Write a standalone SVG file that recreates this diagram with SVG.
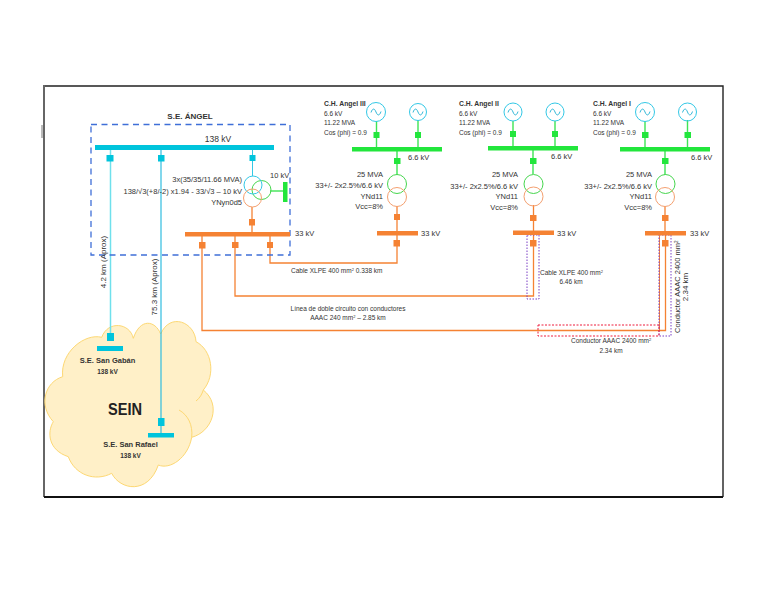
<svg xmlns="http://www.w3.org/2000/svg" xmlns:xlink="http://www.w3.org/1999/xlink" width="768" height="594" viewBox="0 0 768 594">
<style>
text{font-family:"Liberation Sans",Arial,sans-serif;fill:#333;font-size:7.5px}
.b{font-weight:bold}.m{text-anchor:middle}.r{text-anchor:end}
.s{font-size:6.5px}.h{font-size:6.5px}.hb{font-size:6.800px}.t{font-size:8.500px}.v{font-size:8px}
.cy{fill:#00c4dc}.gr{fill:#22e63c}.or{fill:#f58233}
.lg{stroke:#3ee455;stroke-width:1.4;fill:none}.lo{stroke:#f58233;stroke-width:1.3;fill:none}
.c1{fill:none;stroke:#33c8e6;stroke-width:1}.c2{fill:none;stroke:#46d64e;stroke-width:1}.c3{fill:none;stroke:#f4a070;stroke-width:1}
.wave{fill:none;stroke:#33b8d8;stroke-width:1}
</style>
<defs>
<g id="gen"><path class="wave" d="M-5 0.5C-3.5 -4 -1.5 -4 0 0S3.500 4 5 -0.500"/></g>
</defs>
<rect width="768" height="594" fill="#fff"/>
<g id="frame">
<rect x="41" y="125" width="2.500" height="13" fill="#bbb"/>
<path d="M44 86H723V497" fill="none" stroke="#222" stroke-width="1.400"/>
<path d="M44 85V497" fill="none" stroke="#666" stroke-width="2"/>
<path d="M44 497H723" fill="none" stroke="#111" stroke-width="1.800"/>
</g>
<g id="cloud-sein">
<path d="M62.700 376.700C60 352 85 333 101.700 337.300C108 320 130 323 133.300 338.300C140 318 155 320 160.700 334C170 312 195 322 196 341.700C212 350 216 375 203.300 390C222 405 212 432 191.700 437.300C188 458 170 470 158.300 465C148 495 120 490 111.700 473.300C95 482 75 475 68.300 456.700C48 450 47 432 53.300 421.700C38 405 45 382 62.700 376.700Z" fill="#fff0c8" stroke="#fdd873" stroke-width="1"/>
<path d="M191.700 437.300C193 425 188 415 179 410M203.300 390C202 394 200 398 196 401" fill="none" stroke="#fdd873" stroke-width="1"/>
<text class="b m" x="125" y="415" textLength="34" lengthAdjust="spacingAndGlyphs" style="font-size:16px;fill:#222">SEIN</text>
</g>
<g id="connectors">
<path d="M110.500 150V340" fill="none" stroke="#6fe0ec" stroke-width="1.500"/>
<path d="M161 150V433" fill="none" stroke="#30bde0" stroke-width="1.200"/>
<path d="M252.500 150V176" fill="none" stroke="#33c8e6" stroke-width="1"/>
<path class="lo" d="M252 207V232"/>
<path class="lg" d="M270 191H285"/>
<path class="lo" d="M270 236V263H397V235"/>
<path class="lo" d="M235 236V296H533.500V235"/>
<path class="lo" d="M202 236V330.500H665.500V235"/>
<path d="M659.500 236V330" fill="none" stroke="#f58233" stroke-width="1"/>
<path class="lg" d="M376.500 121V147M418 120V147M397 151V175"/>
<path class="lo" d="M397 206V231"/>
<path class="lg" d="M513 121V146M555 121V146M533 150V174"/>
<path class="lo" d="M533.500 205V231"/>
<path class="lg" d="M645 121V147M687.500 120V147M665 151V175"/>
<path class="lo" d="M665 206V231"/>
<rect x="527" y="235" width="12" height="64" fill="none" stroke="#7b3fc4" stroke-width="1" stroke-dasharray="1.500 1.500"/>
<rect x="659" y="235" width="12" height="101" fill="none" stroke="#7b3fc4" stroke-width="1" stroke-dasharray="1.500 1.500"/>
<rect x="538" y="325" width="121" height="11" fill="none" stroke="#ee1c3c" stroke-width="1" stroke-dasharray="2 1.500"/>
<rect x="91" y="124.500" width="199" height="130.500" fill="none" stroke="#3f6fd8" stroke-width="1.300" stroke-dasharray="6 4.500"/>
</g>
<g id="se-angel">
<text class="b m v" x="190" y="119">S.E. ÁNGEL</text>
<rect class="cy" x="95" y="145" width="179" height="5"/>
<text class="m t" x="218" y="141.500">138 kV</text>
<rect class="cy" x="106.500" y="155" width="7" height="6.500"/>
<rect class="cy" x="158" y="155" width="6.500" height="6.500"/>
<rect class="cy" x="249.500" y="155" width="6" height="6"/>
<circle class="c2" cx="261.500" cy="190" r="9.500"/>
<circle class="c1" cx="253" cy="185" r="9"/>
<circle class="c3" cx="252.500" cy="198" r="9"/>
<rect class="gr" x="283" y="182" width="4.500" height="20"/>
<rect class="or" x="249" y="219" width="6" height="6.500"/>
<rect class="or" x="185" y="232" width="105" height="4.500"/>
<rect class="or" x="199" y="242" width="6.500" height="6.500"/>
<rect class="or" x="232" y="242" width="6.500" height="6"/>
<rect class="or" x="267" y="242" width="6" height="6"/>
<text class="r" x="242" y="182">3x(35/35/11.66 MVA)</text>
<text class="r" x="242" y="194">138/√3(+8/-2) x1.94 - 33/√3 – 10 kV</text>
<text class="r" x="242" y="205">YNyn0d5</text>
<text x="270" y="178">10 kV</text>
<text x="295" y="236">33 kV</text>
</g>
<g id="ch-angel-3">
<circle class="c1" cx="376" cy="112" r="9.500"/><use href="#gen" x="376" y="112"/>
<circle class="c1" cx="418" cy="112" r="8.500"/><use href="#gen" x="418" y="112"/>
<rect class="gr" x="373.500" y="132" width="6" height="6"/><rect class="gr" x="415" y="132" width="6" height="6"/>
<rect class="gr" x="352" y="147" width="90" height="4.500"/>
<rect class="gr" x="394" y="158" width="6.500" height="6"/>
<circle class="c2" cx="397" cy="184" r="9.500"/><circle class="c3" cx="397" cy="197" r="9.500"/>
<rect class="or" x="394" y="214" width="6" height="6"/>
<rect class="or" x="377" y="231" width="41" height="4.500"/>
<rect class="or" x="393.500" y="240" width="6.500" height="6.500"/>
<text class="b hb" x="324" y="106">C.H. Angel III</text>
<text class="h" x="324" y="115.500">6.6 kV</text><text class="h" x="324" y="125">11.22 MVA</text><text class="h" x="324" y="134.500">Cos (phi) = 0.9</text>
<text x="408" y="160">6.6 kV</text>
<text class="r" x="383" y="177">25 MVA</text><text class="r" x="383" y="188">33+/- 2x2.5%/6.6 kV</text><text class="r" x="383" y="199">YNd11</text><text class="r" x="383" y="209">Vcc=8%</text>
<text x="421" y="236">33 kV</text>
</g>
<g id="ch-angel-2">
<circle class="c1" cx="513" cy="112" r="9"/><use href="#gen" x="513" y="112"/>
<circle class="c1" cx="555" cy="112" r="9"/><use href="#gen" x="555" y="112"/>
<rect class="gr" x="510" y="131" width="6" height="6"/><rect class="gr" x="552" y="131" width="6" height="6"/>
<rect class="gr" x="488" y="146" width="90" height="4.500"/>
<rect class="gr" x="530" y="158" width="6.500" height="6"/>
<circle class="c2" cx="533.500" cy="184" r="9.500"/><circle class="c3" cx="533.500" cy="196.500" r="9.500"/>
<rect class="or" x="530" y="215" width="6.500" height="6"/>
<rect class="or" x="513" y="230.500" width="41" height="4.500"/>
<rect class="or" x="530" y="240" width="6.500" height="6.500"/>
<text class="b hb" x="459" y="106">C.H. Angel II</text>
<text class="h" x="459" y="115.500">6.6 kV</text><text class="h" x="459" y="125">11.22 MVA</text><text class="h" x="459" y="134.500">Cos (phi) = 0.9</text>
<text x="551" y="159">6.6 kV</text>
<text class="r" x="518" y="177">25 MVA</text><text class="r" x="518" y="189">33+/- 2x2.5%/6.6 kV</text><text class="r" x="518" y="199">YNd11</text><text class="r" x="518" y="210">Vcc=8%</text>
<text x="557" y="236">33 kV</text>
</g>
<g id="ch-angel-1">
<circle class="c1" cx="645" cy="112" r="9.500"/><use href="#gen" x="645" y="112"/>
<circle class="c1" cx="687.500" cy="112" r="9"/><use href="#gen" x="687.500" y="112"/>
<rect class="gr" x="642" y="132" width="6.500" height="6"/><rect class="gr" x="684.500" y="132" width="6.500" height="6"/>
<rect class="gr" x="620" y="147" width="90" height="4.500"/>
<rect class="gr" x="662" y="158" width="6.500" height="6"/>
<circle class="c2" cx="665.500" cy="184" r="9.500"/><circle class="c3" cx="665" cy="197" r="9.500"/>
<rect class="or" x="662" y="215" width="6.500" height="6"/>
<rect class="or" x="645" y="231" width="41" height="4.500"/>
<rect class="or" x="662" y="240" width="6.500" height="6.500"/>
<text class="b hb" x="593" y="106">C.H. Angel I</text>
<text class="h" x="593" y="115.500">6.6 kV</text><text class="h" x="593" y="125">11.22 MVA</text><text class="h" x="593" y="134.500">Cos (phi) = 0.9</text>
<text x="691" y="160">6.6 kV</text>
<text class="r" x="652" y="177">25 MVA</text><text class="r" x="652" y="189">33+/- 2x2.5%/6.6 kV</text><text class="r" x="652" y="199">YNd11</text><text class="r" x="652" y="210">Vcc=8%</text>
<text x="690" y="236">33 kV</text>
</g>
<g id="se-san-gaban">
<rect class="cy" x="107" y="333" width="7" height="8"/>
<rect class="cy" x="97" y="346" width="26" height="5"/>
<text class="b m s" x="107.500" y="362.500" style="font-size:7.500px">S.E. San Gabán</text>
<text class="b m s" x="107.500" y="374">138 kV</text>
</g>
<g id="se-san-rafael">
<rect class="cy" x="158" y="418" width="6.500" height="8"/>
<rect class="cy" x="148" y="433" width="26" height="4.500"/>
<text class="b m s" x="130.500" y="446.500" style="font-size:7.500px">S.E. San Rafael</text>
<text class="b m s" x="130.500" y="458">138 kV</text>
</g>
<g id="connector-labels">
<text class="m v" transform="translate(106 262) rotate(-90)">4.2 km (Aprox)</text>
<text class="m v" transform="translate(157 287) rotate(-90)">75.3 km (Aprox)</text>
<text class="s" x="291" y="273">Cable XLPE 400 mm<tspan dy="-2" style="font-size:4px">2</tspan><tspan dy="2"> 0.338 km</tspan></text>
<text class="m s" x="348" y="311">Línea de doble circuito con conductores</text>
<text class="m s" x="348" y="320">AAAC 240 mm<tspan dy="-2" style="font-size:4px">2</tspan><tspan dy="2"> – 2.85 km</tspan></text>
<text class="s" x="540" y="275">Cable XLPE 400 mm<tspan dy="-2" style="font-size:4px">2</tspan></text>
<text class="m s" x="571" y="284">6.46 km</text>
<text class="s" x="571" y="343">Conductor AAAC 2400 mm<tspan dy="-2" style="font-size:4px">2</tspan></text>
<text class="m s" x="611" y="353">2.34 km</text>
<text transform="translate(680 333) rotate(-90)">Conductor AAAC 2400 mm<tspan dy="-2" style="font-size:4.500px">2</tspan></text>
<text class="m v" transform="translate(688 287) rotate(-90)">2.34 km</text>
</g>
</svg>
